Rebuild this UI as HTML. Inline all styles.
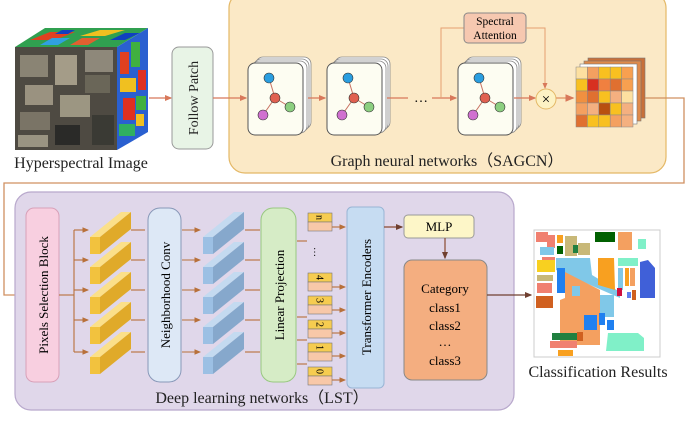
<!DOCTYPE html>
<html><head><meta charset="utf-8"><style>
html,body{margin:0;padding:0;background:#fff;}
svg{display:block;font-family:"Liberation Serif",serif;}
</style></head><body>
<svg width="685" height="421" viewBox="0 0 685 421" xmlns="http://www.w3.org/2000/svg">
<defs>
<marker id="a" markerWidth="6" markerHeight="6" refX="5" refY="3" orient="auto"><path d="M0,0.5 L6,3 L0,5.5 z" fill="#d8785a"/></marker>
<marker id="b" markerWidth="6" markerHeight="6" refX="5" refY="3" orient="auto"><path d="M0,0.5 L6,3 L0,5.5 z" fill="#b8703a"/></marker>
<marker id="c" markerWidth="6" markerHeight="6" refX="5" refY="3" orient="auto"><path d="M0,0.5 L6,3 L0,5.5 z" fill="#704030"/></marker>
<g id="card">
<rect x="8" y="-6" width="55" height="72" rx="7" fill="#fff" stroke="#888" stroke-width="0.8"/>
<rect x="6" y="-4" width="55" height="72" rx="7" fill="#fff" stroke="#888" stroke-width="0.8"/>
<rect x="4" y="-2" width="55" height="72" rx="7" fill="#fff" stroke="#888" stroke-width="0.8"/>
<rect x="0" y="0" width="55" height="72" rx="7" fill="#fdfdf2" stroke="#555" stroke-width="1"/>
<line x1="21" y1="15" x2="27" y2="35" stroke="#c87060"/><line x1="27" y1="35" x2="42" y2="44" stroke="#c87060"/><line x1="27" y1="35" x2="15" y2="52" stroke="#c87060"/>
<circle cx="21" cy="15" r="5" fill="#2a9ee0" stroke="#333" stroke-width="0.6"/>
<circle cx="27" cy="35" r="5" fill="#e06050" stroke="#333" stroke-width="0.6"/>
<circle cx="42" cy="44" r="5" fill="#8ccf80" stroke="#333" stroke-width="0.6"/>
<circle cx="15" cy="52" r="5" fill="#d070d0" stroke="#333" stroke-width="0.6"/>
</g>
<g id="yb"><polygon points="0,0 31,-25 41,-25 10,0" fill="#fbe08a"/><polygon points="0,0 10,0 10,17 0,17" fill="#f2c23e"/><polygon points="10,0 41,-25 41,-8 10,17" fill="#e0aa2a"/></g>
<g id="bb"><polygon points="0,0 31,-25 41,-25 10,0" fill="#c4daf0"/><polygon points="0,0 10,0 10,17 0,17" fill="#9cc0e4"/><polygon points="10,0 41,-25 41,-8 10,17" fill="#86a8cc"/></g>
</defs>

<!-- top panel -->
<rect x="229" y="-8" width="437" height="181" rx="16" fill="#fbe9c6" stroke="#e4b866" stroke-width="1.2"/>
<text x="447" y="166" font-size="16" text-anchor="middle" fill="#222">Graph neural networks（SAGCN）</text>

<!-- cube -->
<polygon points="15,47 45,28 148,28 117,47" fill="#30a050"/>
<polygon points="30,40 50,32 75,32 55,40" fill="#e04020"/><polygon points="80,36 100,30 125,30 105,36" fill="#f0c020"/><polygon points="110,40 125,33 140,33 125,40" fill="#1040c0"/><polygon points="40,45 52,38 70,38 58,45" fill="#30a0e0"/><polygon points="70,45 82,38 100,38 88,45" fill="#e06030"/><polygon points="55,34 62,30 75,30 68,34" fill="#1040c0"/>
<polygon points="117,47 148,28 148,132 117,150" fill="#2a60d0"/>
<rect x="120" y="52" width="9" height="22" fill="#e04020"/><rect x="131" y="42" width="9" height="25" fill="#40b040"/><rect x="120" y="78" width="16" height="14" fill="#f0c020"/><rect x="138" y="70" width="8" height="20" fill="#e03020"/><rect x="123" y="98" width="12" height="22" fill="#e03020"/><rect x="136" y="96" width="10" height="14" fill="#40b040"/><rect x="119" y="124" width="16" height="12" fill="#30b060"/><rect x="136" y="114" width="8" height="12" fill="#f0c020"/>
<rect x="15" y="47" width="102" height="103" fill="#4e4a42"/>
<rect x="20" y="55" width="28" height="22" fill="#8a8474"/><rect x="55" y="55" width="22" height="30" fill="#a49c88"/><rect x="85" y="50" width="28" height="22" fill="#8e887a"/><rect x="25" y="85" width="28" height="20" fill="#9a9280"/><rect x="60" y="95" width="30" height="22" fill="#9c9682"/><rect x="85" y="75" width="25" height="18" fill="#6a6658"/><rect x="20" y="112" width="30" height="18" fill="#7a7466"/><rect x="55" y="125" width="25" height="20" fill="#2a2a28"/><rect x="18" y="135" width="30" height="12" fill="#9a9482"/><rect x="92" y="115" width="22" height="30" fill="#3a3a34"/>

<text x="81" y="168" font-size="16" text-anchor="middle" fill="#222">Hyperspectral Image</text>

<line x1="149" y1="98" x2="171" y2="98" stroke="#d8785a" stroke-width="1.2" marker-end="url(#a)"/>
<rect x="172" y="47" width="41" height="102" rx="7" fill="#e8f4e6" stroke="#999"/>
<text transform="translate(198,98) rotate(-90)" font-size="14" text-anchor="middle" fill="#222">Follow Patch</text>
<line x1="213" y1="98" x2="246" y2="98" stroke="#d8785a" stroke-width="1.2" marker-end="url(#a)"/>

<use href="#card" x="248" y="63"/>
<use href="#card" x="327" y="63"/>
<use href="#card" x="458" y="63"/>
<line x1="308" y1="98" x2="325" y2="98" stroke="#d8785a" stroke-width="1.2" marker-end="url(#a)"/>
<line x1="387" y1="98" x2="408" y2="98" stroke="#d8785a" stroke-width="1.2"/>
<text x="421" y="102" font-size="14" text-anchor="middle">…</text>
<line x1="432" y1="98" x2="456" y2="98" stroke="#d8785a" stroke-width="1.2" marker-end="url(#a)"/>
<polyline points="441,98 441,28 464,28" fill="none" stroke="#e4a070" stroke-width="1"/>
<rect x="464" y="13" width="62" height="30" rx="4" fill="#f6c8b0" stroke="#888"/>
<text x="495" y="25" font-size="11.5" text-anchor="middle">Spectral</text>
<text x="495" y="39" font-size="11.5" text-anchor="middle">Attention</text>
<polyline points="526,28 545,28 545,88" fill="none" stroke="#e4a070" stroke-width="1" marker-end="url(#a)"/>
<line x1="514" y1="98" x2="535" y2="98" stroke="#d8785a" stroke-width="1.2" marker-end="url(#a)"/>
<circle cx="546" cy="99" r="10" fill="#fdf2c4" stroke="#e4b866"/>
<text x="546" y="104" font-size="15" text-anchor="middle">×</text>
<line x1="556" y1="98" x2="573" y2="98" stroke="#e4a070" stroke-width="1.5" marker-end="url(#a)"/>
<!-- heatmap -->
<rect x="588" y="58" width="57" height="60" fill="#c8703a" stroke="#777" stroke-width="0.6"/>
<rect x="584" y="61" width="57" height="60" fill="#e08a4a" stroke="#777" stroke-width="0.6"/>
<rect x="580" y="64" width="57" height="60" fill="#fff" stroke="#777" stroke-width="0.6"/>
<g stroke="#888" stroke-width="0.5">
<rect x="576" y="67" width="11.4" height="12" fill="#fde0a0"/><rect x="587.4" y="67" width="11.4" height="12" fill="#f4a060"/><rect x="598.8" y="67" width="11.4" height="12" fill="#f8c020"/><rect x="610.2" y="67" width="11.4" height="12" fill="#f8c020"/><rect x="621.6" y="67" width="11.4" height="12" fill="#f8a050"/>
<rect x="576" y="79" width="11.4" height="12" fill="#f8c020"/><rect x="587.4" y="79" width="11.4" height="12" fill="#d83020"/><rect x="598.8" y="79" width="11.4" height="12" fill="#f08040"/><rect x="610.2" y="79" width="11.4" height="12" fill="#e07030"/><rect x="621.6" y="79" width="11.4" height="12" fill="#f8a050"/>
<rect x="576" y="91" width="11.4" height="12" fill="#f09040"/><rect x="587.4" y="91" width="11.4" height="12" fill="#e07030"/><rect x="598.8" y="91" width="11.4" height="12" fill="#f8c020"/><rect x="610.2" y="91" width="11.4" height="12" fill="#f4b080"/><rect x="621.6" y="91" width="11.4" height="12" fill="#fde0a0"/>
<rect x="576" y="103" width="11.4" height="12" fill="#f4a060"/><rect x="587.4" y="103" width="11.4" height="12" fill="#f4b080"/><rect x="598.8" y="103" width="11.4" height="12" fill="#b85010"/><rect x="610.2" y="103" width="11.4" height="12" fill="#f8c020"/><rect x="621.6" y="103" width="11.4" height="12" fill="#f4b080"/>
<rect x="576" y="115" width="11.4" height="12" fill="#e07030"/><rect x="587.4" y="115" width="11.4" height="12" fill="#f8c020"/><rect x="598.8" y="115" width="11.4" height="12" fill="#f8c020"/><rect x="610.2" y="115" width="11.4" height="12" fill="#f4a060"/><rect x="621.6" y="115" width="11.4" height="12" fill="#f4b080"/>
</g>
<polyline points="645,98 684,98 684,183 4,183 4,295 23,295" fill="none" stroke="#d09060" stroke-width="1.3" marker-end="url(#b)"/>

<!-- bottom panel -->
<rect x="15" y="192" width="499" height="218" rx="16" fill="#e0d7ea" stroke="#b8a8cc" stroke-width="1.2"/>
<text x="262" y="403" font-size="16" text-anchor="middle" fill="#222">Deep learning networks（LST）</text>
<rect x="26" y="208" width="33" height="174" rx="8" fill="#f8cfe0" stroke="#d8a0b8"/>
<text transform="translate(48,295) rotate(-90)" font-size="13" text-anchor="middle">Pixels Selection Block</text>
<g stroke="#b8703a" stroke-width="1.1" fill="none">
<line x1="59" y1="295" x2="74" y2="295"/><line x1="74" y1="230" x2="74" y2="352"/>
<line x1="74" y1="230" x2="88" y2="230" marker-end="url(#b)"/><line x1="74" y1="260" x2="88" y2="260" marker-end="url(#b)"/><line x1="74" y1="290" x2="88" y2="290" marker-end="url(#b)"/><line x1="74" y1="320" x2="88" y2="320" marker-end="url(#b)"/><line x1="74" y1="352" x2="88" y2="352" marker-end="url(#b)"/>
<line x1="131" y1="230" x2="145" y2="230"/><line x1="131" y1="260" x2="145" y2="260"/><line x1="131" y1="290" x2="145" y2="290"/><line x1="131" y1="320" x2="145" y2="320"/><line x1="131" y1="352" x2="145" y2="352"/>
<line x1="182" y1="230" x2="200" y2="230" marker-end="url(#b)"/><line x1="182" y1="260" x2="200" y2="260" marker-end="url(#b)"/><line x1="182" y1="290" x2="200" y2="290" marker-end="url(#b)"/><line x1="182" y1="320" x2="200" y2="320" marker-end="url(#b)"/><line x1="182" y1="352" x2="200" y2="352" marker-end="url(#b)"/>
<line x1="245" y1="230" x2="260" y2="230"/><line x1="245" y1="260" x2="260" y2="260"/><line x1="245" y1="290" x2="260" y2="290"/><line x1="245" y1="320" x2="260" y2="320"/><line x1="245" y1="352" x2="260" y2="352"/>
<line x1="297" y1="241" x2="307" y2="241"/><line x1="297" y1="317" x2="307" y2="317"/><line x1="297" y1="340" x2="307" y2="340"/><line x1="297" y1="364" x2="307" y2="364"/>
</g>
<use href="#yb" x="90" y="237"/><use href="#yb" x="90" y="267"/><use href="#yb" x="90" y="297"/><use href="#yb" x="90" y="327"/><use href="#yb" x="90" y="357"/>
<rect x="148" y="208" width="33" height="174" rx="12" fill="#dde8f6" stroke="#8898b8"/>
<text transform="translate(170,295) rotate(-90)" font-size="13" text-anchor="middle">Neighborhood Conv</text>
<use href="#bb" x="203" y="237"/><use href="#bb" x="203" y="267"/><use href="#bb" x="203" y="297"/><use href="#bb" x="203" y="327"/><use href="#bb" x="203" y="357"/>
<rect x="261" y="208" width="35" height="174" rx="12" fill="#d6ecc6" stroke="#98c880"/>
<text transform="translate(284,295) rotate(-90)" font-size="13" text-anchor="middle">Linear Projection</text>
<!-- tokens -->
<g font-size="10" text-anchor="middle">
<g transform="translate(308,213)"><rect width="24" height="9" fill="#f6cc50" stroke="#777" stroke-width="0.6"/><rect y="9" width="24" height="9" fill="#f8c8a8" stroke="#777" stroke-width="0.6"/><text transform="translate(12,4.5) rotate(90)" y="3.5">n</text></g>
<text x="320" y="258" transform="rotate(90 320 252)">…</text>
<g transform="translate(308,273)"><rect width="24" height="9" fill="#f6cc50" stroke="#777" stroke-width="0.6"/><rect y="9" width="24" height="9" fill="#f8c8a8" stroke="#777" stroke-width="0.6"/><text transform="translate(12,4.5) rotate(90)" y="3.5">4</text></g>
<g transform="translate(308,296)"><rect width="24" height="9" fill="#f6cc50" stroke="#777" stroke-width="0.6"/><rect y="9" width="24" height="9" fill="#f8c8a8" stroke="#777" stroke-width="0.6"/><text transform="translate(12,4.5) rotate(90)" y="3.5">3</text></g>
<g transform="translate(308,320)"><rect width="24" height="9" fill="#f6cc50" stroke="#777" stroke-width="0.6"/><rect y="9" width="24" height="9" fill="#f8c8a8" stroke="#777" stroke-width="0.6"/><text transform="translate(12,4.5) rotate(90)" y="3.5">2</text></g>
<g transform="translate(308,343)"><rect width="24" height="9" fill="#f6cc50" stroke="#777" stroke-width="0.6"/><rect y="9" width="24" height="9" fill="#f8c8a8" stroke="#777" stroke-width="0.6"/><text transform="translate(12,4.5) rotate(90)" y="3.5">1</text></g>
<g transform="translate(308,367)"><rect width="24" height="9" fill="#f6cc50" stroke="#777" stroke-width="0.6"/><rect y="9" width="24" height="9" fill="#f8c8a8" stroke="#777" stroke-width="0.6"/><text transform="translate(12,4.5) rotate(90)" y="3.5">0</text></g>
</g>
<g stroke="#b8703a" stroke-width="1.1">
<line x1="332" y1="227" x2="345" y2="227" marker-end="url(#b)"/><line x1="332" y1="287" x2="345" y2="287" marker-end="url(#b)"/><line x1="332" y1="310" x2="345" y2="310" marker-end="url(#b)"/><line x1="332" y1="333" x2="345" y2="333" marker-end="url(#b)"/><line x1="332" y1="356" x2="345" y2="356" marker-end="url(#b)"/><line x1="332" y1="380" x2="345" y2="380" marker-end="url(#b)"/>
</g>
<rect x="347" y="207" width="37" height="181" rx="5" fill="#c6dcf2" stroke="#98b4d4"/>
<text transform="translate(371,297) rotate(-90)" font-size="13" text-anchor="middle">Transformer Encoders</text>
<line x1="384" y1="227" x2="402" y2="227" stroke="#8a4a30" stroke-width="1.2" marker-end="url(#c)"/>
<rect x="404" y="215" width="70" height="23" rx="4" fill="#fdf6c8" stroke="#999"/>
<text x="439" y="231" font-size="13" text-anchor="middle">MLP</text>
<line x1="445" y1="238" x2="445" y2="258" stroke="#8a4a30" stroke-width="1.2" marker-end="url(#c)"/>
<rect x="404" y="260" width="83" height="120" rx="8" fill="#f4ae80" stroke="#888"/>
<g font-size="13" text-anchor="middle"><text x="445" y="293">Category</text><text x="445" y="312">class1</text><text x="445" y="330">class2</text><text x="445" y="346">…</text><text x="445" y="357" dy="8">class3</text></g>
<line x1="487" y1="295" x2="531" y2="295" stroke="#704030" stroke-width="1.2" marker-end="url(#c)"/>
<!-- map -->
<rect x="534" y="230" width="126" height="127" fill="#fff" stroke="#ccc"/>
<g>
<rect x="536" y="232" width="12" height="10" fill="#f08070"/><rect x="547" y="235" width="8" height="13" fill="#f08070"/><rect x="557" y="235" width="6" height="8" fill="#f8a020"/><rect x="557" y="246" width="6" height="8" fill="#006000"/><rect x="565" y="236" width="12" height="20" fill="#c8b878"/><rect x="573" y="245" width="5" height="8" fill="#208040"/><rect x="578" y="243" width="12" height="12" fill="#c8b878"/><rect x="595" y="232" width="20" height="10" fill="#006000"/><rect x="618" y="232" width="14" height="18" fill="#f4a060"/><rect x="638" y="239" width="8" height="10" fill="#80f0c8"/>
<rect x="540" y="247" width="14" height="8" fill="#80c8e8"/><rect x="542" y="257" width="13" height="7" fill="#f08070"/><rect x="537" y="260" width="18" height="12" fill="#f8d020"/><rect x="537" y="275" width="16" height="6" fill="#c8b878"/><rect x="537" y="283" width="15" height="10" fill="#f08070"/><rect x="536" y="296" width="17" height="12" fill="#d06020"/>
<polygon points="556,258 590,258 592,275 620,292 620,298 556,270" fill="#80c8e8"/><rect x="557" y="268" width="8" height="25" fill="#2080f0"/><polygon points="565,272 600,290 600,345 560,345 560,300 565,298" fill="#f4a060"/><rect x="572" y="286" width="8" height="10" fill="#80c8e8"/>
<polygon points="598,258 614,258 615,290 598,285" fill="#f8a020"/><rect x="618" y="258" width="20" height="8" fill="#80f0c8"/><rect x="618" y="268" width="5" height="22" fill="#80c8e8"/><rect x="625" y="268" width="4" height="18" fill="#f8a020"/><rect x="630" y="268" width="5" height="18" fill="#f4a060"/><polygon points="640,262 648,260 655,268 655,298 640,298" fill="#4060d8"/>
<rect x="600" y="295" width="14" height="22" fill="#80c8e8"/><rect x="617" y="288" width="5" height="8" fill="#d01040"/><rect x="627" y="292" width="4" height="6" fill="#6080f0"/><rect x="632" y="290" width="4" height="10" fill="#d06020"/>
<rect x="584" y="315" width="13" height="15" fill="#2080f0"/><rect x="599" y="313" width="6" height="12" fill="#2080f0"/><rect x="607" y="320" width="7" height="10" fill="#2080f0"/>
<rect x="552" y="333" width="25" height="7" fill="#208040"/><rect x="577" y="332" width="6" height="9" fill="#d06020"/><rect x="550" y="341" width="27" height="7" fill="#f08070"/><rect x="558" y="350" width="15" height="6" fill="#f8a020"/>
<polygon points="608,333 638,333 644,338 644,351 606,351" fill="#80f0c8"/>
</g>
<text x="598" y="377" font-size="16" text-anchor="middle" fill="#222">Classification Results</text>
</svg>
</body></html>
